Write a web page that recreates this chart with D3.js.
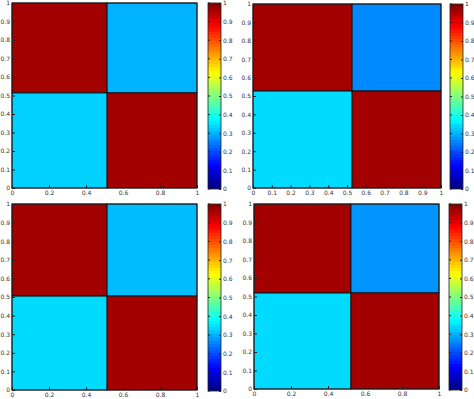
<!DOCTYPE html>
<html><head><meta charset="utf-8">
<script src="https://cdn.jsdelivr.net/npm/d3@7"></script>
<style>body{margin:0;background:#fff}svg{display:block}text{font-family:"DejaVu Sans",sans-serif;font-size:6px;fill:#333}</style>
</head><body><svg id="c" width="474" height="399"></svg>
<script>
// cell values [top-left, top-right, bottom-left, bottom-right] for each panel
const panelValues = [
  [0.965, 0.30, 0.33, 0.965],
  [0.965, 0.26, 0.34, 0.965],
  [0.965, 0.31, 0.34, 0.965],
  [0.965, 0.27, 0.34, 0.965]
];
const xSplits = [0.514, 0.527, 0.514, 0.524];
const ySplits = [0.514, 0.527, 0.505, 0.519];
const xTickSets = [
  [0, 0.2, 0.4, 0.6, 0.8, 1],
  [0, 0.1, 0.2, 0.3, 0.4, 0.5, 0.6, 0.7, 0.8, 0.9, 1],
  [0, 0.2, 0.4, 0.6, 0.8, 1],
  [0, 0.2, 0.4, 0.6, 0.8, 1]
];
const yTicks = [0, 0.1, 0.2, 0.3, 0.4, 0.5, 0.6, 0.7, 0.8, 0.9, 1];
const cbTicks = [0, 0.1, 0.2, 0.3, 0.4, 0.5, 0.6, 0.7, 0.8, 0.9, 1];

// layout boxes [left, right, top, bottom] and colorbar [left, right, top, bottom]
const boxes = [
  {p:[12,197,3,188], cb:[208,221,3,189]},
  {p:[253,441,4,188], cb:[450,463,4,189]},
  {p:[12,197,204,390], cb:[208,221,204,391]},
  {p:[254,439,204,389], cb:[449,462,204,390]}
];

function jet(v){
  const c = x => Math.max(0, Math.min(1, x));
  const r = c(Math.min(4*v-1.5, -4*v+4.5));
  const g = c(Math.min(4*v-0.5, -4*v+3.5));
  const b = c(Math.min(4*v+0.5, -4*v+2.5));
  return d3.rgb(r*255, g*255, b*255).formatHex();
}
const fmt = d => d === 0 ? "0" : d === 1 ? "1" : d3.format(".1f")(d);

const svg = d3.select("#c");
const defs = svg.append("defs");
const grad = defs.append("linearGradient").attr("id","jet").attr("x1",0).attr("y1",1).attr("x2",0).attr("y2",0);
d3.range(0, 64).forEach(i => {
  const col = jet((i+0.5)/64);
  grad.append("stop").attr("offset", i/64).attr("stop-color", col);
  grad.append("stop").attr("offset", (i+1)/64).attr("stop-color", col);
});

boxes.forEach((bx, k) => {
  const [l, r, t, b] = bx.p;
  const x = d3.scaleLinear().domain([0,1]).range([l, r]);
  const y = d3.scaleLinear().domain([0,1]).range([b, t]);
  const g = svg.append("g");
  const vals = panelValues[k];
  const xs = xSplits[k], ys = ySplits[k];
  const cells = [
    {x0:0, x1:xs, y0:ys, y1:1, v:vals[0]},
    {x0:xs, x1:1, y0:ys, y1:1, v:vals[1]},
    {x0:0, x1:xs, y0:0, y1:ys, v:vals[2]},
    {x0:xs, x1:1, y0:0, y1:ys, v:vals[3]}
  ];
  g.selectAll("rect.cell").data(cells).join("rect").attr("class","cell")
    .attr("x", d => x(d.x0)).attr("y", d => y(d.y1))
    .attr("width", d => x(d.x1)-x(d.x0)).attr("height", d => y(d.y0)-y(d.y1))
    .attr("fill", d => jet(d.v)).attr("stroke", "#111").attr("stroke-width", 1);
  // axes
  const xa = d3.axisBottom(x).tickValues(xTickSets[k]).tickFormat(fmt).tickSizeInner(-3).tickSizeOuter(0).tickPadding(3);
  const ya = d3.axisLeft(y).tickValues(yTicks).tickFormat(fmt).tickSizeInner(-3).tickSizeOuter(0).tickPadding(2);
  const gx = g.append("g").attr("transform", `translate(0,${b})`).call(xa);
  const gy = g.append("g").attr("transform", `translate(${l},0)`).call(ya);
  [gx, gy].forEach(a => { a.select(".domain").remove(); a.selectAll("line").attr("stroke","#222"); a.selectAll("text").style("font-size","6px").attr("fill","#333"); });
  gx.selectAll("text").attr("dy","0.6em");
  g.append("rect").attr("x", l).attr("y", t).attr("width", r-l).attr("height", b-t)
    .attr("fill","none").attr("stroke","#222").attr("stroke-width",0.8);
  // colorbar
  const [cl, cr, ct, cbb] = bx.cb;
  const cy = d3.scaleLinear().domain([0,1]).range([cbb, ct]);
  const cg = svg.append("g");
  cg.append("rect").attr("x", cl).attr("y", ct).attr("width", cr-cl).attr("height", cbb-ct).attr("fill","url(#jet)");
  const ca = d3.axisRight(cy).tickValues(cbTicks).tickFormat(fmt).tickSizeInner(-2).tickSizeOuter(0).tickPadding(2);
  const gc = cg.append("g").attr("transform", `translate(${cr},0)`).call(ca);
  gc.select(".domain").remove();
  gc.selectAll("line").attr("stroke","#222");
  gc.selectAll("text").style("font-size","6px").attr("fill","#333");
  cg.selectAll("line.lt").data(cbTicks).join("line").attr("class","lt")
    .attr("x1", cl).attr("x2", cl+2).attr("y1", d => cy(d)).attr("y2", d => cy(d)).attr("stroke","#222");
  cg.append("rect").attr("x", cl).attr("y", ct).attr("width", cr-cl).attr("height", cbb-ct)
    .attr("fill","none").attr("stroke","#222").attr("stroke-width",0.8);
});
</script></body></html>
